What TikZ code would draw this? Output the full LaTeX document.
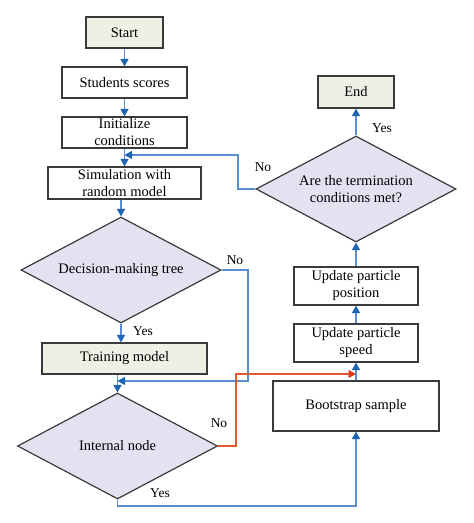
\documentclass[tikz,border=0pt]{standalone}
\usepackage{fontspec}
\setmainfont{Liberation Serif}
\usetikzlibrary{shapes.geometric,arrows.meta}
\definecolor{boxline}{HTML}{3A3A3A}
\definecolor{termfill}{HTML}{EEF0E6}
\definecolor{diafill}{HTML}{E4E2F0}
\definecolor{lineblue}{HTML}{5A8ED2}
\definecolor{tipblue}{HTML}{1E64B4}
\definecolor{linered}{HTML}{E05A30}
\definecolor{tipred}{HTML}{D83A1A}
\tikzset{
  procbox/.style={draw=boxline, line width=1.2pt, fill=white, align=center, inner sep=0pt,
    font=\fontsize{14.5}{17}\selectfont},
  termbox/.style={procbox, fill=termfill},
  decbox/.style={draw=boxline, line width=1.2pt, fill=diafill, diamond, aspect=1.887, inner sep=0pt,
    minimum width=200pt, minimum height=106pt, align=center, font=\fontsize{14.5}{17}\selectfont},
  flow/.style={draw=lineblue, line width=1.1pt, -{Triangle[width=8pt,length=7.5pt,color=tipblue]}},
  flowred/.style={draw=linered, line width=1.1pt, -{Triangle[width=8pt,length=7.5pt,color=tipred]}},
  lbl/.style={font=\fontsize{13.5}{16}\selectfont, inner sep=0pt}
}
\begin{document}
\begin{tikzpicture}[x=1pt,y=-1pt]
\useasboundingbox (0,0) rectangle (474,523);
% left column
\node[termbox, minimum width=77pt, minimum height=31pt] (start) at (124.5,32.5) {Start};
\node[procbox, minimum width=125pt, minimum height=31pt] (students) at (124.5,82.5) {Students scores};
\node[procbox, minimum width=125pt, minimum height=31pt] (init) at (124.5,132.5) {Initialize\\conditions};
\node[procbox, minimum width=153pt, minimum height=32pt] (sim) at (124.5,183) {Simulation with\\random model};
\node[decbox] (dec) at (121,270) {Decision-making tree};
\node[termbox, minimum width=165pt, minimum height=31pt] (train) at (124.5,358.5) {Training model};
\node[decbox] (int) at (117.5,446) {Internal node};
% right column
\node[termbox, minimum width=76pt, minimum height=32pt] (end) at (356,92) {End};
\node[decbox] (term) at (356,189) {Are the termination\\conditions met?};
\node[procbox, minimum width=124pt, minimum height=38pt] (pos) at (356,286) {Update particle\\position};
\node[procbox, minimum width=124pt, minimum height=38pt] (speed) at (356,343) {Update particle\\speed};
\node[procbox, minimum width=166pt, minimum height=50pt] (boot) at (356,406) {Bootstrap sample};
% junction coordinates
\coordinate (j1) at (124.5,155);
\coordinate (j2) at (117.5,381);
\coordinate (j3) at (356,374);
% connectors left column
\draw[flow] (start) -- (students);
\draw[flow] (students) -- (init);
\draw[flow] (init) -- (sim);
\draw[flow] (sim.south -| dec.north) -- (dec.north);
\draw[flow] (dec.south) -- (train.north -| dec.south);
\draw[flow] (train.south -| int.north) -- (int.north);
% No from decision tree
\draw[flow] (dec.east) -- (248,270) -- (248,381) -- (j2);
% No from internal node (red)
\draw[flowred] (int.east) -- (236,446) -- (236,374) -- (j3);
% Yes from internal node
\draw[flow] (int.south) -- (117.5,506) -- (356,506) -- (boot.south);
% right column
\draw[flow] (boot.north) -- (speed.south);
\draw[flow] (speed.north) -- (pos.south);
\draw[flow] (pos.north) -- (term.south);
\draw[flow] (term.north) -- (end.south);
% No from termination
\draw[flow] (term.west) -- (238,189) -- (238,155) -- (j1);
% labels
\node[lbl] (lyes1) at (143,331) {Yes};
\node[lbl] (lno1) at (235,260) {No};
\node[lbl] (lno2) at (219,423) {No};
\node[lbl] (lyes2) at (160,493) {Yes};
\node[lbl] (lyes3) at (382,128) {Yes};
\node[lbl] (lno3) at (263,167) {No};
\end{tikzpicture}
\end{document}
